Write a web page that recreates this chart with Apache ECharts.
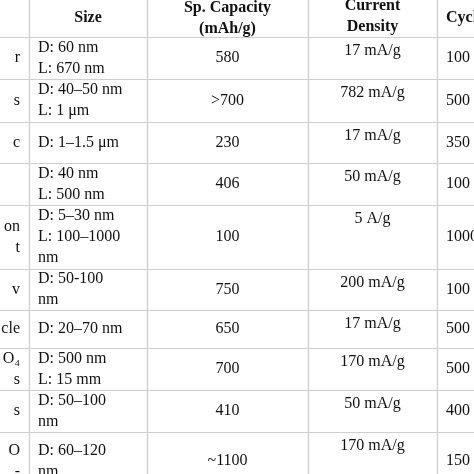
<!DOCTYPE html>
<html><head><meta charset="utf-8">
<script src="https://cdn.jsdelivr.net/npm/echarts@6/dist/echarts.min.js"></script>
<style>html,body{margin:0;padding:0;background:#fff}#c{width:474px;height:474px}</style>
</head><body><div id="c"></div>
<script>
const headers = ['', 'Size', 'Sp. Capacity\n(mAh/g)', 'Current\nDensity', 'Cycles'];
const materials = ['r', 's', 'c', '', 'on\nt', 'v', 'cle', 'O\u2084\ns', 's', 'O\n-'];
const sizes = ['D: 60 nm\nL: 670 nm', 'D: 40\u201350 nm\nL: 1 \u03bcm', 'D: 1\u20131.5 \u03bcm', 'D: 40 nm\nL: 500 nm',
  'D: 5\u201330 nm\nL: 100\u20131000\nnm', 'D: 50-100\nnm', 'D: 20\u201370 nm', 'D: 500 nm\nL: 15 mm', 'D: 50\u2013100\nnm', 'D: 60\u2013120\nnm'];
const capacities = ['580', '>700', '230', '406', '100', '750', '650', '700', '410', '~1100'];
const currents = ['17 mA/g', '782 mA/g', '17 mA/g', '50 mA/g', '5 A/g', '200 mA/g', '17 mA/g', '170 mA/g', '50 mA/g', '170 mA/g'];
const cycles = ['100', '500', '350', '100', '1000', '100', '500', '500', '400', '150'];

// layout (pixel-space axis units)
const colEdges = [-120, 29, 147, 308, 437, 600];
const rowEdges = [-10, 37, 79, 122, 163, 205, 269, 310, 348, 390, 432, 490];

const cols = [materials, sizes, capacities, currents, cycles];
const data = [];
for (let c = 0; c < 5; c++) {
  data.push([c, 0, headers[c]]);
  for (let r = 0; r < cols[c].length; r++) data.push([c, r + 1, cols[c][r]]);
}
const FONT = '"Liberation Serif","DejaVu Serif",serif';
function renderItem(params, api) {
  const c = api.value(0), r = api.value(1);
  const txt = data[params.dataIndex][2];
  const p0 = api.coord([colEdges[c], rowEdges[r]]);
  const p1 = api.coord([colEdges[c + 1], rowEdges[r + 1]]);
  const x0 = p0[0], y0 = p0[1], x1 = p1[0], y1 = p1[1];
  const header = r === 0;
  let tx, ty, align = 'center', va = 'middle';
  const cy = header ? 18 : (y0 + y1) / 2;
  if (c === 0) { tx = 20; ty = cy; align = 'right'; }
  else if (c === 1) { tx = header ? (x0 + x1) / 2 : x0 + 9; align = header ? 'center' : 'left'; ty = cy; }
  else if (c === 2) { tx = (x0 + x1) / 2; ty = cy; }
  else if (c === 3) { tx = (x0 + x1) / 2; if (header) { ty = 16; } else { ty = y0 + 3; va = 'top'; } }
  else { tx = x0 + 9; align = 'left'; ty = cy; }
  return {
    type: 'group',
    children: [
      { type: 'rect', shape: { x: x0 + 0.5, y: y0 + 0.5, width: x1 - x0, height: y1 - y0 },
        style: { fill: 'none', stroke: '#cfcfcf', lineWidth: 1.2 } },
      { type: 'text', style: { text: txt, x: tx, y: ty, align: align, verticalAlign: va,
        font: (header ? 'bold ' : '') + '16px ' + FONT, lineHeight: 21, fill: '#111' } }
    ]
  };
}
const chart = echarts.init(document.getElementById('c'));
chart.setOption({
  animation: false,
  grid: { left: 0, right: 0, top: 0, bottom: 0 },
  xAxis: { type: 'value', min: 0, max: 474, show: false },
  yAxis: { type: 'value', min: 0, max: 474, inverse: true, show: false },
  series: [{ type: 'custom', renderItem: renderItem, data: data, clip: false,
    encode: { x: 0, y: 1 } }]
});
</script></body></html>
